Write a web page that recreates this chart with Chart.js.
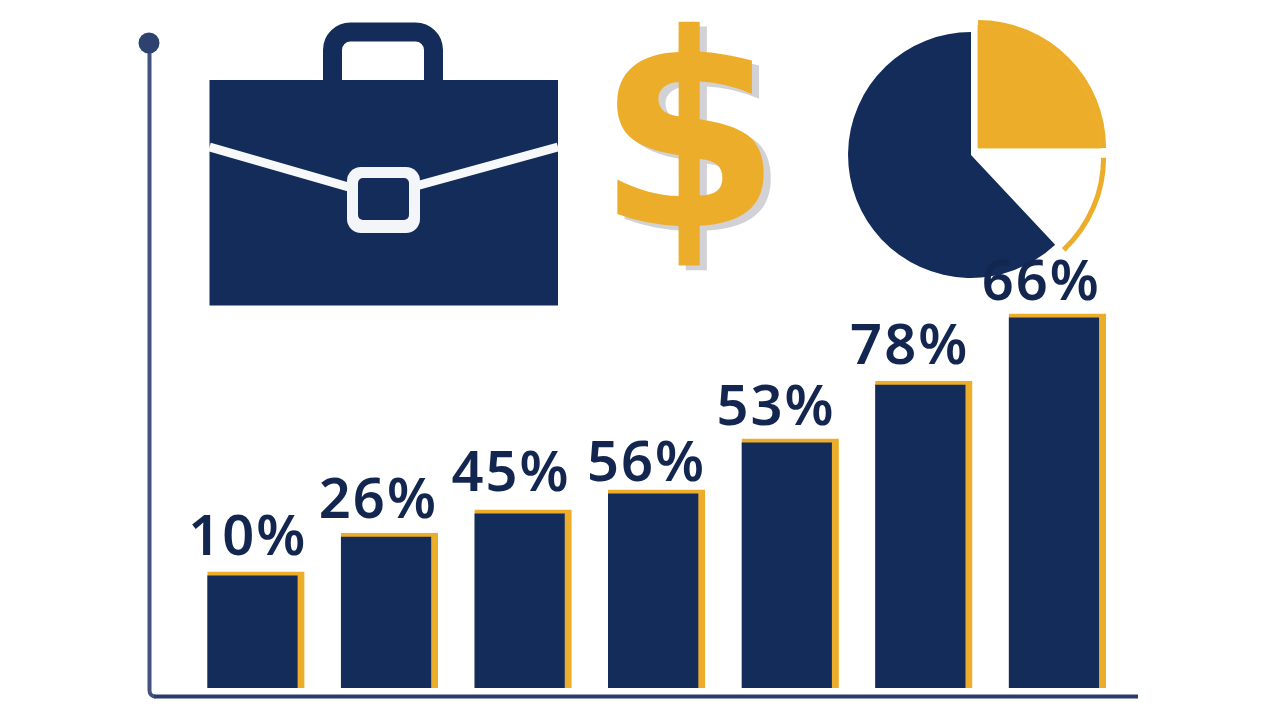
<!DOCTYPE html>
<html>
<head>
<meta charset="utf-8">
<title>Business growth</title>
<script src="https://cdn.jsdelivr.net/npm/chart.js@4/dist/chart.umd.min.js"></script>
<style>
    html, body { margin: 0; padding: 0; background: #fff; overflow: hidden; }
    #pieChart { position: absolute; left: 813px; top: -3px; }
    #barChart { position: absolute; left: 0; top: 0; }
</style>
</head>
<body>
<canvas id="pieChart" width="316" height="316"></canvas>
<canvas id="barChart" width="1280" height="720"></canvas>
<script>
var barLabels = ['10%', '26%', '45%', '56%', '53%', '78%', '66%'];
var barValues = [16.9, 22.5, 25.9, 28.8, 36.2, 44.6, 54.4];
var pieLabels = ['Gold', 'Open', 'Navy'];
var pieValues = [25, 13, 62];

var NAVY = '#142c5a';
var GOLD = '#ecae2a';
var TEXT_NAVY = '#13264f';

// hand placed shift of each percent label from the top middle of its bar
var labelDx = [-8, -11, -12, -10, -14, -14, -16];
var labelDy = [-17, -15, -19, -9, -14, -17, -14];

function roundRect(ctx, x, y, w, h, r) {
    ctx.beginPath();
    ctx.roundRect(x, y, w, h, r);
}

function drawBriefcase(ctx) {
    // handle
    ctx.strokeStyle = NAVY;
    ctx.lineWidth = 19;
    ctx.beginPath();
    ctx.roundRect(332.5, 32, 101, 70, 18);
    ctx.stroke();
    // body
    ctx.fillStyle = NAVY;
    ctx.fillRect(209.5, 80, 348.5, 225.5);
    // flap lines
    ctx.strokeStyle = '#f7f8fa';
    ctx.lineWidth = 9;
    ctx.beginPath();
    ctx.moveTo(209.5, 147);
    ctx.lineTo(352, 188);
    ctx.moveTo(558, 147);
    ctx.lineTo(416, 186);
    ctx.stroke();
    // clasp
    ctx.fillStyle = '#f4f5f8';
    roundRect(ctx, 347, 167, 73, 66, 14);
    ctx.fill();
    ctx.fillStyle = NAVY;
    roundRect(ctx, 358, 178, 51, 42, 5);
    ctx.fill();
}

function drawDollar(ctx) {
    ctx.save();
    ctx.font = 'bold 224px "DejaVu Sans"';
    ctx.textAlign = 'center';
    ctx.textBaseline = 'alphabetic';
    ctx.translate(689, 226);
    ctx.scale(1.19, 1.2);
    ctx.fillStyle = '#d2d2d6';
    ctx.fillText('$', 6, 4);
    ctx.fillStyle = GOLD;
    ctx.fillText('$', 0, 0);
    ctx.restore();
}

function drawAxes(ctx) {
    ctx.lineWidth = 4;
    ctx.strokeStyle = '#44527f';
    ctx.beginPath();
    ctx.moveTo(149.5, 43);
    ctx.lineTo(149.5, 690);
    ctx.arcTo(149.5, 696.5, 156, 696.5, 6);
    ctx.stroke();
    ctx.strokeStyle = '#2d3c6c';
    ctx.beginPath();
    ctx.moveTo(154, 696.5);
    ctx.lineTo(1138, 696.5);
    ctx.stroke();
    ctx.fillStyle = '#2e4270';
    ctx.beginPath();
    ctx.arc(149, 43, 10.5, 0, Math.PI * 2);
    ctx.fill();
}

var decorPlugin = {
    id: 'decor',
    beforeDatasetsDraw: function(chart) {
        var ctx = chart.ctx;
        drawAxes(ctx);
        drawBriefcase(ctx);
        drawDollar(ctx);
    }
};

var percentLabels = {
    id: 'percentLabels',
    afterDatasetsDraw: function(chart) {
        var ctx = chart.ctx;
        var bars = chart.getDatasetMeta(0).data;
        ctx.save();
        ctx.font = '600 56px "Noto Sans"';
        ctx.letterSpacing = '2px';
        ctx.fillStyle = TEXT_NAVY;
        ctx.textAlign = 'center';
        ctx.textBaseline = 'alphabetic';
        bars.forEach(function(bar, i) {
            ctx.fillText(chart.data.labels[i], bar.x + labelDx[i], bar.y + labelDy[i]);
        });
        ctx.restore();
    }
};

new Chart(document.getElementById('barChart').getContext('2d'), {
    type: 'bar',
    data: {
        labels: barLabels,
        datasets: [{
            data: barValues,
            backgroundColor: NAVY,
            borderColor: GOLD,
            borderWidth: { top: 4, right: 7, bottom: 0, left: 0 },
            borderSkipped: false,
            barThickness: 97
        }]
    },
    options: {
        responsive: false,
        animation: false,
        layout: { padding: { left: 189, right: 156, top: 0, bottom: 32 } },
        plugins: { legend: { display: false }, tooltip: { enabled: false } },
        scales: {
            x: { display: false },
            y: { display: false, min: 0, max: 100 }
        }
    },
    plugins: [decorPlugin, percentLabels]
});

// thin outer ring carries the gold rim, inner ring is the pie itself
// arc offset gets divided by 4 inside Chart.js, so 40 moves a slice 10px
new Chart(document.getElementById('pieChart').getContext('2d'), {
    type: 'pie',
    data: {
        labels: pieLabels,
        datasets: [{
            data: pieValues,
            backgroundColor: [GOLD, GOLD, 'rgba(0,0,0,0)'],
            borderWidth: 0,
            offset: [40, 24, 0],
            weight: 5
        }, {
            data: pieValues,
            backgroundColor: [GOLD, '#ffffff', NAVY],
            borderColor: GOLD,
            borderWidth: [1, 0, 0],
            offset: [40, 0, 0],
            weight: 122
        }]
    },
    options: {
        responsive: false,
        animation: false,
        layout: { padding: 10 },
        plugins: { legend: { display: false }, tooltip: { enabled: false } }
    }
});
</script>
</body>
</html>
